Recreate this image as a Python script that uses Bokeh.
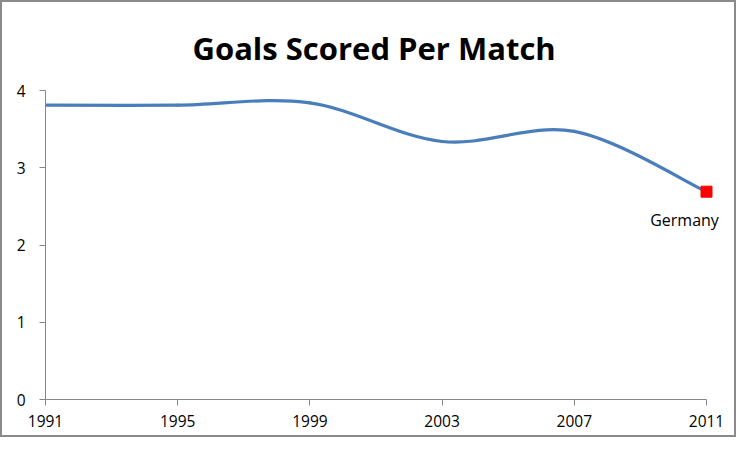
from bokeh.plotting import figure
from bokeh.models import FixedTicker, Range1d, ColumnDataSource
from bokeh.core.properties import value
from bokeh.embed import file_html
from bokeh.resources import INLINE
import numpy as np

years = [1991, 1995, 1999, 2003, 2007, 2011]
goals_per_match = [3.81, 3.81, 3.84, 3.34, 3.47, 2.69]
highlight_year = [2011]
highlight_value = [2.69]
highlight_label = ["Germany"]
title_text = "Goals Scored Per Match"

FONT = "Open Sans"

# frame: 1991..2011 spans 661px; extra room on the right for the marker / label
px_per_year = 661 / (years[-1] - years[0])
extra_px = 28
x_end = years[-1] + extra_px / px_per_year

p = figure(width=732, height=431, output_backend="svg", toolbar_location=None,
           x_range=Range1d(years[0], x_end), y_range=Range1d(0, 4),
           min_border_left=43, min_border_right=0, min_border_top=86, min_border_bottom=36,
           title=title_text)
p.frame_width = 661 + extra_px
p.frame_height = 309
p.title.align = "left"
p.title.offset = 147
p.title.text_font = FONT
p.title.text_font_size = "31px"
p.title.text_font_style = "bold"
p.title.text_color = "black"
p.title.standoff = 44
p.outline_line_color = None
p.grid.visible = False
p.background_fill_color = "white"
p.border_fill_color = "white"
p.styles = {"border": "2px solid #8a8a8a"}

for ax in (p.xaxis, p.yaxis):
    ax.axis_line_color = "#868686"
    ax.major_tick_line_color = "#868686"
    ax.major_tick_in = 0
    ax.major_tick_out = 6
    ax.minor_tick_line_color = None
    ax.major_label_text_font = FONT
    ax.major_label_text_font_size = "15.5px"
    ax.major_label_text_color = "black"
p.xaxis.ticker = FixedTicker(ticks=years)
p.xaxis.bounds = (years[0], years[-1])
p.yaxis.ticker = FixedTicker(ticks=[0, 1, 2, 3, 4])
p.xaxis.major_label_standoff = 9
p.yaxis.major_label_standoff = 14

# Smoothed line (Catmull-Rom style Bezier segments, like a spreadsheet "smoothed line")
x = np.array(years, dtype=float)
y = np.array(goals_per_match, dtype=float)
xp = np.concatenate([[x[0]], x, [x[-1]]])
yp = np.concatenate([[y[0]], y, [y[-1]]])
n = len(x) - 1
cx0 = x[:-1] + (xp[2:n + 2] - xp[0:n]) / 6
cy0 = y[:-1] + (yp[2:n + 2] - yp[0:n]) / 6
cx1 = x[1:] - (xp[3:n + 3] - xp[1:n + 1]) / 6
cy1 = y[1:] - (yp[3:n + 3] - yp[1:n + 1]) / 6
src = ColumnDataSource(dict(x0=x[:-1], y0=y[:-1], x1=x[1:], y1=y[1:],
                            cx0=cx0, cy0=cy0, cx1=cx1, cy1=cy1))
p.bezier(x0="x0", y0="y0", x1="x1", y1="y1", cx0="cx0", cy0="cy0", cx1="cx1", cy1="cy1",
         source=src, line_color="#4A7EBB", line_width=3.2, line_cap="round")

p.scatter(highlight_year, highlight_value, marker="square", size=11,
          fill_color="#FF0000", line_color="#FF0000")
p.text(highlight_year, highlight_value, text=highlight_label, x_offset=-22, y_offset=28,
       text_align="center", text_baseline="middle", text_font=value(FONT),
       text_font_size="16px", text_color="black")

open("out.html", "w").write(file_html(p, INLINE))
